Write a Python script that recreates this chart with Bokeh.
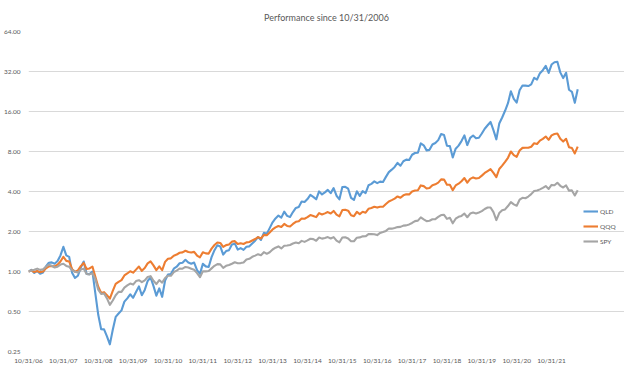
from bokeh.plotting import figure
from bokeh.models import FixedTicker, Legend, LegendItem, Range1d, PrintfTickFormatter
from bokeh.embed import file_html
from bokeh.resources import INLINE

title_text = "Performance since 10/31/2006"
series_names = ["QLD", "QQQ", "SPY"]
x_tick_labels = ["10/31/06", "10/31/07", "10/31/08", "10/31/09", "10/31/10", "10/31/11",
                 "10/31/12", "10/31/13", "10/31/14", "10/31/15", "10/31/16", "10/31/17",
                 "10/31/18", "10/31/19", "10/31/20", "10/31/21"]
y_ticks = [0.25, 0.5, 1, 2, 4, 8, 16, 32, 64]

qld = [1.000, 1.030, 0.975, 1.009, 0.961, 0.983, 1.092, 1.164, 1.172, 1.144, 1.198, 1.321,
       1.533, 1.322, 1.289, 0.979, 0.895, 0.929, 1.071, 1.189, 0.957, 0.955, 0.998, 0.684,
       0.472, 0.368, 0.367, 0.325, 0.283, 0.364, 0.455, 0.483, 0.510, 0.593, 0.628, 0.674,
       0.634, 0.700, 0.773, 0.663, 0.727, 0.848, 0.902, 0.780, 0.658, 0.746, 0.645, 0.856,
       0.950, 0.959, 1.050, 1.086, 1.153, 1.163, 1.225, 1.167, 1.144, 1.167, 1.025, 0.960,
       1.142, 1.093, 1.082, 1.282, 1.447, 1.576, 1.543, 1.341, 1.424, 1.448, 1.598, 1.620,
       1.462, 1.499, 1.455, 1.535, 1.546, 1.627, 1.707, 1.818, 1.727, 1.953, 1.922, 2.121,
       2.344, 2.510, 2.635, 2.545, 2.820, 2.623, 2.571, 2.802, 3.009, 3.060, 3.361, 3.333,
       3.511, 3.771, 3.646, 3.496, 4.008, 3.801, 3.940, 4.111, 3.890, 4.244, 3.718, 3.493,
       4.320, 4.342, 4.198, 3.581, 3.459, 4.010, 3.709, 4.024, 3.896, 4.456, 4.569, 4.764,
       4.624, 4.745, 4.722, 5.155, 5.598, 5.842, 6.127, 6.566, 6.251, 6.756, 6.953, 6.902,
       7.561, 7.794, 7.821, 9.202, 8.913, 8.156, 8.230, 9.035, 9.259, 9.745, 10.829, 10.662,
       8.840, 8.785, 7.211, 8.402, 8.855, 9.582, 10.575, 8.940, 10.127, 10.550, 10.065, 10.149,
       10.926, 11.877, 12.596, 13.345, 11.579, 9.872, 12.980, 14.420, 16.208, 18.466, 22.72, 19.94,
       18.67, 23.11, 25.08, 25.04, 24.86, 25.59, 28.68, 27.83, 31.10, 32.73, 35.25, 31.20,
       36.10, 37.54, 37.90, 31.51, 28.54, 31.29, 23.32, 22.50, 18.60, 23.52]

qqq = [1.000, 1.017, 0.991, 1.010, 0.988, 1.001, 1.057, 1.093, 1.099, 1.093, 1.126, 1.190,
       1.291, 1.202, 1.190, 1.040, 0.997, 1.019, 1.097, 1.159, 1.043, 1.054, 1.090, 0.913,
       0.768, 0.689, 0.699, 0.664, 0.625, 0.715, 0.806, 0.835, 0.862, 0.934, 0.966, 1.005,
       0.980, 1.033, 1.089, 1.012, 1.063, 1.152, 1.192, 1.112, 1.024, 1.095, 1.022, 1.181,
       1.248, 1.256, 1.316, 1.341, 1.384, 1.392, 1.432, 1.400, 1.389, 1.405, 1.319, 1.279,
       1.397, 1.369, 1.364, 1.487, 1.582, 1.654, 1.639, 1.530, 1.579, 1.595, 1.678, 1.692,
       1.610, 1.633, 1.611, 1.657, 1.666, 1.712, 1.756, 1.815, 1.772, 1.886, 1.873, 1.969,
       2.072, 2.146, 2.201, 2.165, 2.281, 2.202, 2.182, 2.280, 2.365, 2.387, 2.504, 2.496,
       2.564, 2.660, 2.618, 2.566, 2.750, 2.683, 2.737, 2.801, 2.730, 2.857, 2.679, 2.602,
       2.899, 2.912, 2.869, 2.651, 2.607, 2.808, 2.702, 2.816, 2.772, 2.966, 3.005, 3.070,
       3.026, 3.073, 3.073, 3.219, 3.363, 3.444, 3.536, 3.670, 3.590, 3.742, 3.806, 3.804,
       3.994, 4.068, 4.088, 4.446, 4.390, 4.213, 4.246, 4.461, 4.531, 4.664, 4.933, 4.917,
       4.495, 4.499, 4.095, 4.441, 4.578, 4.782, 5.048, 4.661, 4.982, 5.107, 5.010, 5.053,
       5.266, 5.515, 5.705, 5.899, 5.520, 5.124, 5.907, 6.264, 6.682, 7.172, 8.000, 7.518,
       7.297, 8.145, 8.513, 8.532, 8.529, 8.684, 9.222, 9.114, 9.670, 9.958, 10.372, 9.793,
       10.574, 10.825, 10.917, 9.971, 9.508, 9.973, 8.627, 8.489, 7.733, 8.711]

spy = [1.000, 1.017, 1.030, 1.051, 1.029, 1.038, 1.086, 1.125, 1.105, 1.072, 1.088, 1.127,
       1.144, 1.102, 1.085, 1.021, 0.996, 0.984, 1.033, 1.051, 0.959, 0.952, 0.969, 0.874,
       0.730, 0.677, 0.683, 0.628, 0.561, 0.605, 0.663, 0.702, 0.703, 0.757, 0.786, 0.811,
       0.797, 0.847, 0.860, 0.831, 0.858, 0.908, 0.923, 0.852, 0.805, 0.862, 0.824, 0.894,
       0.930, 0.928, 0.991, 1.015, 1.053, 1.050, 1.082, 1.071, 1.050, 1.030, 0.972, 0.905,
       1.005, 1.002, 1.008, 1.056, 1.104, 1.137, 1.131, 1.065, 1.104, 1.119, 1.144, 1.174,
       1.155, 1.157, 1.167, 1.229, 1.246, 1.290, 1.317, 1.350, 1.327, 1.398, 1.359, 1.397,
       1.464, 1.510, 1.544, 1.492, 1.562, 1.571, 1.584, 1.624, 1.652, 1.632, 1.700, 1.671,
       1.714, 1.763, 1.752, 1.704, 1.802, 1.768, 1.789, 1.815, 1.773, 1.815, 1.708, 1.658,
       1.802, 1.812, 1.773, 1.687, 1.689, 1.796, 1.806, 1.839, 1.840, 1.910, 1.915, 1.909,
       1.879, 1.952, 1.982, 2.021, 2.105, 2.101, 2.126, 2.159, 2.166, 2.214, 2.224, 2.261,
       2.319, 2.393, 2.414, 2.554, 2.466, 2.393, 2.409, 2.471, 2.479, 2.574, 2.661, 2.669,
       2.489, 2.540, 2.306, 2.496, 2.580, 2.620, 2.731, 2.561, 2.731, 2.776, 2.735, 2.780,
       2.845, 2.953, 3.030, 3.033, 2.798, 2.439, 2.752, 2.888, 2.932, 3.109, 3.331, 3.199,
       3.124, 3.470, 3.589, 3.559, 3.664, 3.823, 4.033, 4.066, 4.151, 4.259, 4.393, 4.181,
       4.483, 4.454, 4.651, 4.413, 4.290, 4.444, 4.061, 4.077, 3.731, 4.081]

colors = ["#5B9BD5", "#ED7D31", "#A5A5A5"]
FONT = "Lato"
TXT = "#595959"

months = list(range(len(qld)))
x_end = 205.1  # frame runs past the data so the legend can sit at its right

p = figure(width=624, height=366, y_axis_type="log",
           x_range=Range1d(months[0], x_end), y_range=Range1d(y_ticks[0], y_ticks[-1]),
           output_backend="svg", toolbar_location=None, title=title_text,
           min_border_left=25, min_border_right=0, min_border_top=31, min_border_bottom=10)

p.title.align = "center"
p.title.offset = -14
p.title.text_font = FONT
p.title.text_font_size = "9px"
p.title.text_font_style = "normal"
p.title.text_color = TXT
p.title.standoff = 17

p.xgrid.visible = False
p.ygrid.grid_line_color = "#D9D9D9"
p.ygrid.grid_line_width = 1
p.outline_line_color = None

# white mask so the gridlines stop where the data ends (as in the reference)
p.quad(left=months[-1] + 0.4, right=x_end, bottom=y_ticks[0] * 0.9, top=y_ticks[-1] * 1.1,
       fill_color="white", line_color=None, level="underlay")

renderers = []
for ys, c in zip([qld, qqq, spy], colors):
    r = p.line(months, ys, line_color=c, line_width=2.1, line_join="round")
    renderers.append(r)

p.yaxis.ticker = FixedTicker(ticks=y_ticks, minor_ticks=[])
p.yaxis.formatter = PrintfTickFormatter(format="%.2f")
p.xaxis.ticker = FixedTicker(ticks=[12 * i for i in range(len(x_tick_labels))], minor_ticks=[])
p.xaxis.major_label_overrides = {12 * i: lab for i, lab in enumerate(x_tick_labels)}

for ax in (p.xaxis[0], p.yaxis[0]):
    ax.axis_line_color = None
    ax.major_tick_line_color = None
    ax.minor_tick_line_color = None
    ax.major_tick_out = 0
    ax.major_tick_in = 0
    ax.minor_tick_out = 0
    ax.minor_tick_in = 0
    ax.major_label_text_font = FONT
    ax.major_label_text_font_size = "6.5px"
    ax.major_label_text_color = TXT
p.yaxis.major_label_standoff = 8
p.xaxis.major_label_standoff = 5

legend = Legend(items=[LegendItem(label=n, renderers=[r]) for n, r in zip(series_names, renderers)],
                location=(555, 105))
legend.border_line_color = None
legend.background_fill_alpha = 0
legend.label_text_font = FONT
legend.label_text_font_size = "6.5px"
legend.label_text_color = TXT
legend.glyph_width = 15
legend.glyph_height = 10
legend.label_height = 10
legend.spacing = 5
legend.padding = 0
legend.margin = 0
legend.label_standoff = 2
p.add_layout(legend)

open("out.html", "w").write(file_html(p, INLINE))
